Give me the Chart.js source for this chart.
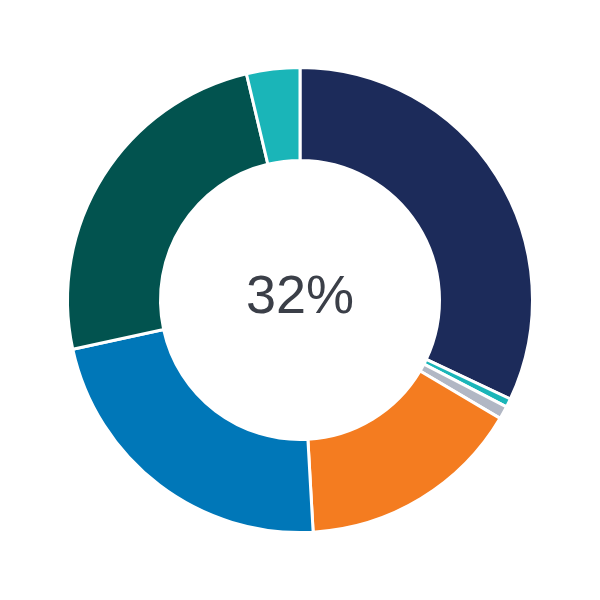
<!DOCTYPE html>
<html>
<head>
<meta charset="utf-8">
<script src="https://cdn.jsdelivr.net/npm/chart.js@4"></script>
<style>
  html, body { margin: 0; padding: 0; background: #fff; }
  #wrap { width: 600px; height: 600px; }
</style>
</head>
<body>
<div id="wrap"><canvas id="donut"></canvas></div>
<script>
const labels = ['A', 'B', 'C', 'D', 'E', 'F', 'G'];
const values = [32, 0.6, 0.9, 15.6, 22.5, 24.7, 3.7];
const colors = ['#1c2b5a', '#1ab5b8', '#b1b7c4', '#f47c20', '#0077b8', '#02534f', '#1ab5b8'];
const centerLabel = '32%';

const centerText = {
    id: 'centerText',
    afterDraw(chart) {
        const { ctx } = chart;
        const arc = chart.getDatasetMeta(0).data[0];
        ctx.save();
        ctx.font = '54px "Liberation Sans", Arial, sans-serif';
        ctx.fillStyle = '#3b3f48';
        ctx.textAlign = 'center';
        ctx.textBaseline = 'middle';
        ctx.fillText(centerLabel, arc.x, arc.y - 2);
        ctx.restore();
    }
};

new Chart(document.getElementById('donut'), {
    type: 'doughnut',
    data: {
        labels,
        datasets: [{
            data: values,
            backgroundColor: colors,
            borderColor: '#ffffff',
            borderWidth: 3,
        }]
    },
    options: {
        responsive: true,
        maintainAspectRatio: false,
        animation: false,
        cutout: '60%',
        layout: { padding: 66 },
        plugins: {
            legend: { display: false },
            tooltip: { enabled: false }
        }
    },
    plugins: [centerText]
});
</script>
</body>
</html>
